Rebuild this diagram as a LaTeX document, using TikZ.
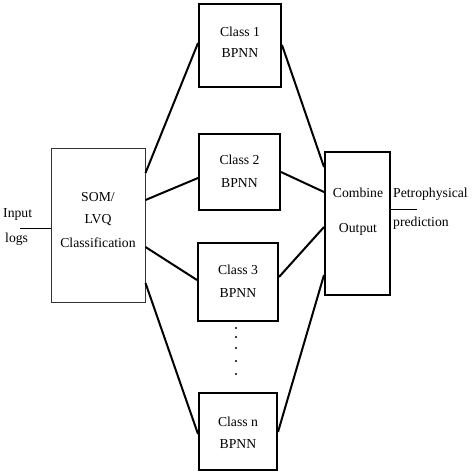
\documentclass[tikz,border=0pt]{standalone}
\usepackage{fontspec}
\setmainfont{Liberation Serif}
\begin{document}
\begin{tikzpicture}[x=1pt,y=-1pt,
  box/.style={draw=black,line width=2pt,minimum width=#1,inner sep=0pt},
  lbl/.style={font=\fontsize{13.7}{15}\selectfont,anchor=base,inner sep=0pt},
  lbll/.style={font=\fontsize{13.7}{15}\selectfont,anchor=base west,inner sep=0pt},
  conn/.style={line width=2pt},
  thin/.style={line width=1pt}]
\useasboundingbox[fill=white] (0,0) rectangle (474,475);
% boxes
\node[draw=black!80,line width=1pt,minimum width=94pt,minimum height=154pt,inner sep=0pt] (som) at (98,225) {};
\node[box=82pt,minimum height=83pt] (c1) at (240,45.5) {};
\node[box=81pt,minimum height=76pt] (c2) at (239.5,172) {};
\node[box=80pt,minimum height=78pt] (c3) at (238,282) {};
\node[box=78pt,minimum height=77pt] (cn) at (238,431.5) {};
\node[box=65pt,minimum height=143pt] (cb) at (357.5,223.5) {};
% texts
\node[lbl] (somA) at (98,201.5) {SOM/};
\node[lbl] (somB) at (98,223.5) {LVQ};
\node[lbl] (somC) at (98,247.5) {Classification};
\node[lbl] (c1A) at (240,36.5) {Class 1};
\node[lbl] (c1B) at (240,57.5) {BPNN};
\node[lbl] (c2A) at (239.5,164.5) {Class 2};
\node[lbl] (c2B) at (239.5,187.5) {BPNN};
\node[lbl] (c3A) at (238,274.5) {Class 3};
\node[lbl] (c3B) at (238,297.5) {BPNN};
\node[lbl] (cnA) at (238,426.5) {Class n};
\node[lbl] (cnB) at (238,448.5) {BPNN};
\node[lbl] (cbA) at (358,197.5) {Combine};
\node[lbl] (cbB) at (358,232.5) {Output};
\node[lbll] (inA) at (3,217.5) {Input};
\node[lbll] (inB) at (5,242.5) {logs};
\node[lbll] (outA) at (393,197.5) {Petrophysical};
\node[lbll] (outB) at (393,226.5) {prediction};
% input / output lines
\coordinate (inS) at (20,228);
\coordinate (outE) at (417,209);
\draw[thin] (inS) -- (som.west |- inS);
\draw[thin] (cb.east |- outE) -- (outE);
% connectors SOM -> classes
\draw[conn] (som.east |- 0,173) -- (c1.west |- 0,43);
\draw[conn] (som.east |- 0,200) -- (c2.west |- 0,178);
\draw[conn] (som.east |- 0,247) -- (c3.west |- 0,280);
\draw[conn] (som.east |- 0,283) -- (cn.west |- 0,434);
% connectors classes -> combine
\draw[conn] (c1.east |- 0,45) -- (cb.west |- 0,167);
\draw[conn] (c2.east |- 0,172) -- (cb.west |- 0,192);
\draw[conn] (c3.east |- 0,277) -- (cb.west |- 0,227);
\draw[conn] (cn.east |- 0,432) -- (cb.west |- 0,275);
% dots
\foreach \yy in {328,337,348,361,374}
  \fill (236,\yy) circle (1.1pt);
\end{tikzpicture}
\end{document}
